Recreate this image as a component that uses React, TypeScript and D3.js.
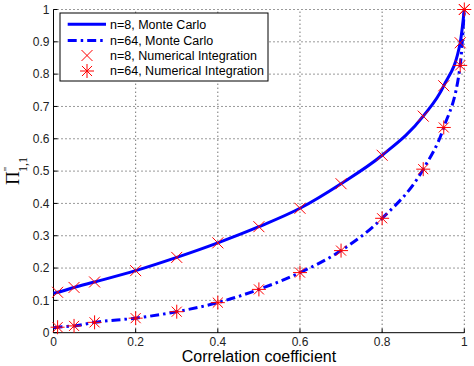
import React from "react";
import * as d3 from "d3";

const corrX = [0.01, 0.05, 0.1, 0.2, 0.3, 0.4, 0.5, 0.6, 0.7, 0.8, 0.9, 0.95, 0.99, 1];
const numInt8 = [0.125, 0.14, 0.157, 0.192, 0.233, 0.278, 0.328, 0.385, 0.461, 0.549, 0.67, 0.764, 0.897, 1.0];
const numInt64 = [0.017, 0.021, 0.032, 0.045, 0.065, 0.093, 0.134, 0.186, 0.254, 0.354, 0.506, 0.635, 0.827, 1.0];
const mcX = [0, 0.01, 0.05, 0.1, 0.2, 0.3, 0.4, 0.5, 0.6, 0.7, 0.8, 0.9, 0.95, 0.99, 1];
const mc8 = [0.122, 0.125, 0.14, 0.157, 0.192, 0.233, 0.278, 0.328, 0.385, 0.461, 0.549, 0.67, 0.764, 0.897, 1.0];
const mc64 = [0.015, 0.017, 0.021, 0.032, 0.045, 0.065, 0.093, 0.134, 0.186, 0.254, 0.354, 0.506, 0.635, 0.827, 1.0];
const xTicks = [0, 0.2, 0.4, 0.6, 0.8, 1];
const yTicks = [0, 0.1, 0.2, 0.3, 0.4, 0.5, 0.6, 0.7, 0.8, 0.9, 1];
const legendLabels = ["n=8, Monte Carlo", "n=64, Monte Carlo", "n=8, Numerical Integration", "n=64, Numerical Integration"];

const W = 474, H = 366;
const L = 53.5, R = 464.3, T = 9.5, B = 332.7;
const FONT = "'Liberation Sans', Arial, Helvetica, sans-serif";
const BLUE = "#0000ff";
const RED = "#ff0000";

function Cross({ x, y, s = 5.5 }: { x: number; y: number; s?: number }) {
  return (
    <path d={`M${x - s},${y - s}L${x + s},${y + s}M${x - s},${y + s}L${x + s},${y - s}`} stroke={RED} strokeWidth={1} fill="none" />
  );
}
function Star({ x, y, s = 7 }: { x: number; y: number; s?: number }) {
  const d = s * 0.72;
  return (
    <path
      d={`M${x - s},${y}L${x + s},${y}M${x},${y - s}L${x},${y + s}M${x - d},${y - d}L${x + d},${y + d}M${x - d},${y + d}L${x + d},${y - d}`}
      stroke={RED}
      strokeWidth={1}
      fill="none"
    />
  );
}

export default function App() {
  const x = d3.scaleLinear().domain([0, 1]).range([L, R]);
  const y = d3.scaleLinear().domain([0, 1]).range([B, T]);
  const line = d3
    .line<[number, number]>()
    .x((d) => x(d[0]))
    .y((d) => y(d[1]))
    .curve(d3.curveMonotoneX);
  const p8 = line(mcX.map((v, i) => [v, mc8[i]] as [number, number])) || "";
  const p64 = line(mcX.map((v, i) => [v, mc64[i]] as [number, number])) || "";
  const dashDot = "9,4,2.5,4";

  const lgX = 60, lgY = 13, lgW = 208, lgH = 68;
  const rowY = [24.3, 40.5, 55.5, 71];

  return (
    <svg width={W} height={H} style={{ position: "absolute", left: 0, top: 0, background: "#fff" }} fontFamily={FONT}>
      <rect x={0} y={0} width={W} height={H} fill="#fff" />
      {/* grid */}
      {xTicks.slice(1).map((t) => (
        <line key={"gx" + t} x1={x(t)} x2={x(t)} y1={B} y2={T} stroke="#000" strokeWidth={0.8} strokeDasharray="1,3" />
      ))}
      {yTicks.slice(1).map((t) => (
        <line key={"gy" + t} x1={L} x2={R} y1={y(t)} y2={y(t)} stroke="#000" strokeWidth={0.8} strokeDasharray="1,3" />
      ))}
      {/* axes */}
      <line x1={L} x2={L} y1={T} y2={B} stroke="#000" strokeWidth={1} />
      <line x1={L} x2={R} y1={B} y2={B} stroke="#000" strokeWidth={1} />
      {xTicks.map((t) => (
        <g key={"xt" + t}>
          <line x1={x(t)} x2={x(t)} y1={B} y2={B - 4} stroke="#000" />
          <text x={x(t)} y={346} textAnchor="middle" fontSize={12} fill="#222">
            {String(t)}
          </text>
        </g>
      ))}
      {yTicks.map((t) => (
        <g key={"yt" + t}>
          <line x1={L} x2={L + 4} y1={y(t)} y2={y(t)} stroke="#000" />
          <text x={L - 4} y={y(t) + 4.2} textAnchor="end" fontSize={12} fill="#222">
            {String(t)}
          </text>
        </g>
      ))}
      {/* lines */}
      <path d={p8} fill="none" stroke={BLUE} strokeWidth={3} />
      <path d={p64} fill="none" stroke={BLUE} strokeWidth={3} strokeDasharray={dashDot} />
      {/* markers */}
      {corrX.map((v, i) => (
        <Cross key={"c" + i} x={x(v)} y={y(numInt8[i])} />
      ))}
      {corrX.map((v, i) => (
        <Star key={"s" + i} x={x(v)} y={y(numInt64[i])} />
      ))}
      {/* legend */}
      <rect x={lgX} y={lgY} width={lgW} height={lgH} fill="#fff" stroke="#000" strokeWidth={1} />
      <line x1={67.7} x2={106} y1={rowY[0]} y2={rowY[0]} stroke={BLUE} strokeWidth={3} />
      <line x1={67.7} x2={106} y1={rowY[1]} y2={rowY[1]} stroke={BLUE} strokeWidth={3} strokeDasharray={dashDot} />
      <Cross x={87} y={rowY[2]} />
      <Star x={87} y={rowY[3]} />
      {legendLabels.map((lab, i) => (
        <text key={lab} x={110} y={rowY[i] + 4.3} fontSize={12.5} fill="#000">
          {lab}
        </text>
      ))}
      {/* x label */}
      <text x={(L + R) / 2} y={362} textAnchor="middle" fontSize={16} fill="#000">
        Correlation coefficient
      </text>
      {/* y label */}
      <g transform="translate(19,185) rotate(-90)" fontFamily="'Liberation Serif', 'DejaVu Serif', serif" fill="#000">
        <text x={0} y={0} fontSize={19}>Π</text>
        <text x={13} y={8} fontSize={12}>1,1</text>
        <text x={14} y={-8} fontSize={11}>''</text>
      </g>
    </svg>
  );
}
